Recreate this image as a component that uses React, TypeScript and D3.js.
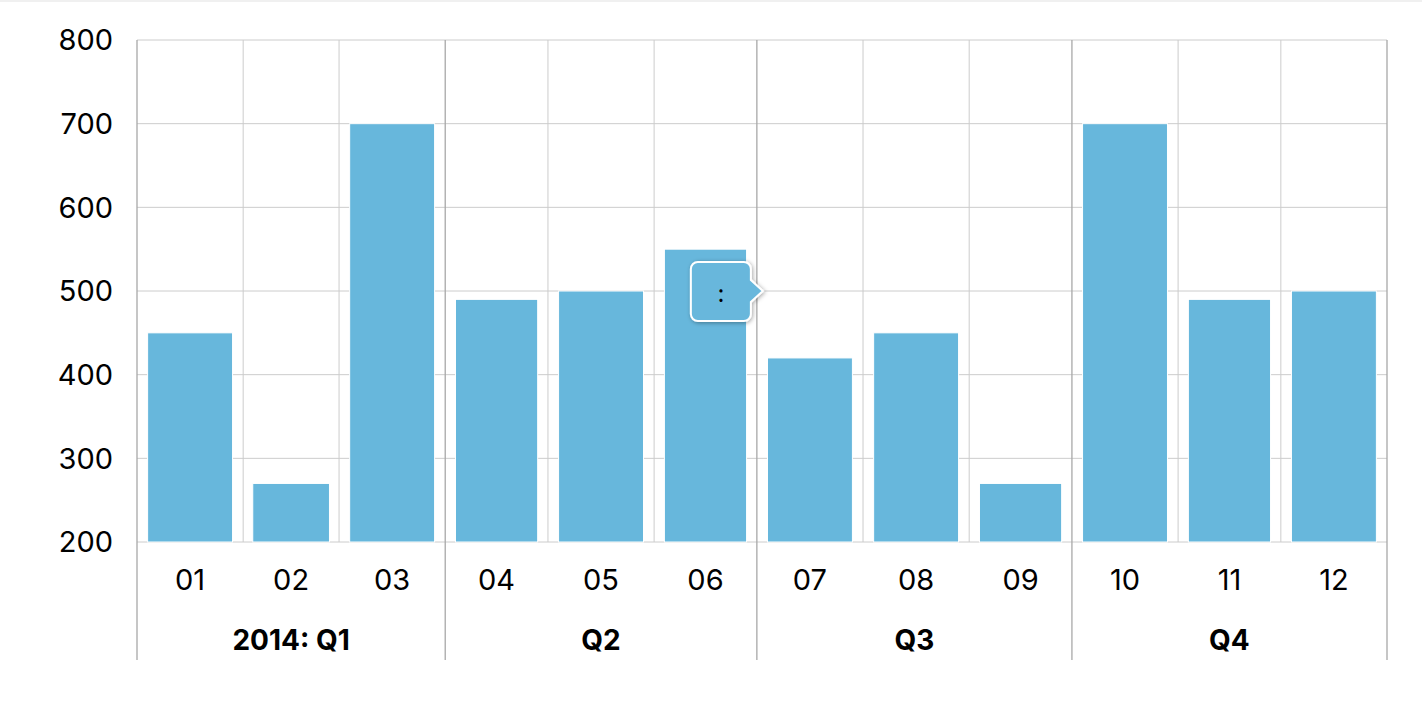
import { FC, useEffect, useRef } from "react";
import * as d3 from "d3";

const months = ["01", "02", "03", "04", "05", "06", "07", "08", "09", "10", "11", "12"];
const values = [450, 270, 700, 490, 500, 550, 420, 450, 270, 700, 490, 500];
const quarters = ["2014: Q1", "Q2", "Q3", "Q4"];
const yTicks = [200, 300, 400, 500, 600, 700, 800];
const year = 2014;

const W = 1422, H = 718;
const margin = { top: 40, right: 35, bottom: 176, left: 137 };
const barColor = "#67b7dc";
const font = "Inter, 'Liberation Sans', sans-serif";

const App: FC = () => {
  const ref = useRef<SVGSVGElement>(null);

  useEffect(() => {
    const svg = d3.select(ref.current);
    svg.selectAll("*").remove();

    const x = d3.scaleTime()
      .domain([new Date(year, 0, 1), new Date(year + 1, 0, 1)])
      .range([margin.left, W - margin.right]);
    const y = d3.scaleLinear().domain([200, 800]).range([H - margin.bottom, margin.top]);

    const monthStart = (i: number) => new Date(year, i, 1);
    const bottom = H - margin.bottom;

    // top hairline
    svg.append("rect").attr("x", 0).attr("y", 0).attr("width", W).attr("height", 2).attr("fill", "#f0f0f0");

    // horizontal grid
    svg.append("g").selectAll("line").data(yTicks).join("line")
      .attr("x1", margin.left).attr("x2", W - margin.right)
      .attr("y1", d => y(d)).attr("y2", d => y(d))
      .attr("stroke", "#cccccc").attr("stroke-width", 1);

    // month gridlines
    svg.append("g").selectAll("line").data(d3.range(1, 13).filter(i => i % 3 !== 0)).join("line")
      .attr("x1", i => x(monthStart(i))).attr("x2", i => x(monthStart(i)))
      .attr("y1", margin.top).attr("y2", bottom)
      .attr("stroke", "#cccccc");

    // quarter lines (extend into the axis area)
    svg.append("g").selectAll("line").data([0, 3, 6, 9, 12]).join("line")
      .attr("x1", i => x(monthStart(i))).attr("x2", i => x(monthStart(i)))
      .attr("y1", margin.top).attr("y2", 660)
      .attr("stroke", "#a8a8a8").attr("stroke-width", 1.3);

    // bars
    svg.append("g").selectAll("rect").data(values).join("rect")
      .attr("x", (_, i) => {
        const a = x(monthStart(i)), b = x(monthStart(i + 1));
        return a + (b - a) * 0.1;
      })
      .attr("width", (_, i) => (x(monthStart(i + 1)) - x(monthStart(i))) * 0.8)
      .attr("y", d => y(d))
      .attr("height", d => bottom - y(d))
      .attr("fill", barColor)
      .attr("stroke", "#ffffff").attr("stroke-width", 1);

    // y labels
    svg.append("g").selectAll("text").data(yTicks).join("text")
      .attr("x", 113).attr("y", d => y(d))
      .attr("dy", "0.36em")
      .attr("text-anchor", "end")
      .attr("font-family", font).attr("font-size", 29).attr("fill", "#000")
      .text(d => d);

    // month labels
    svg.append("g").selectAll("text").data(months).join("text")
      .attr("x", (_, i) => (x(monthStart(i)) + x(monthStart(i + 1))) / 2)
      .attr("y", 580).attr("dy", "0.36em")
      .attr("text-anchor", "middle")
      .attr("font-family", font).attr("font-size", 29).attr("fill", "#000")
      .text(d => d);

    // quarter labels
    svg.append("g").selectAll("text").data(quarters).join("text")
      .attr("x", (_, i) => (x(monthStart(i * 3)) + x(monthStart(i * 3 + 3))) / 2)
      .attr("y", 640).attr("dy", "0.36em")
      .attr("text-anchor", "middle")
      .attr("font-family", font).attr("font-size", 28).attr("font-weight", "bold").attr("fill", "#000")
      .text(d => d);

    // tooltip (arrow points right, just past the June bar)
    const defs = svg.append("defs");
    const filt = defs.append("filter").attr("id", "tipShadow").attr("x", -0.3).attr("y", -0.3).attr("width", 1.6).attr("height", 1.6);
    filt.append("feDropShadow").attr("dx", 1).attr("dy", 1).attr("stdDeviation", 2).attr("flood-color", "#000").attr("flood-opacity", 0.35);

    const tipX = x(monthStart(6)) + 6;
    const tipY = y(500);
    const bw = 60, bh = 59, r = 7, arrow = 12;
    const right = tipX - arrow, left = right - bw, top = tipY - 29;
    const p = d3.path();
    p.moveTo(left + r, top);
    p.lineTo(right - r, top);
    p.arcTo(right, top, right, top + r, r);
    p.lineTo(right, tipY - 11);
    p.lineTo(tipX, tipY);
    p.lineTo(right, tipY + 11);
    p.lineTo(right, top + bh - r);
    p.arcTo(right, top + bh, right - r, top + bh, r);
    p.lineTo(left + r, top + bh);
    p.arcTo(left, top + bh, left, top + bh - r, r);
    p.lineTo(left, top + r);
    p.arcTo(left, top, left + r, top, r);
    p.closePath();
    svg.append("path").attr("d", p.toString())
      .attr("fill", barColor).attr("stroke", "#fff").attr("stroke-width", 2)
      .attr("filter", "url(#tipShadow)");
    svg.append("text").attr("x", (left + right) / 2).attr("y", top + bh / 2 + 2).attr("dy", "0.36em")
      .attr("text-anchor", "middle").attr("font-family", font).attr("font-size", 24)
      .attr("fill", "#000").text(":");
  }, []);

  return (
    <div style={{ position: "absolute", left: 0, top: 0 }}>
      <svg ref={ref} width={W} height={H} style={{ display: "block" }} />
    </div>
  );
};

export default App;
